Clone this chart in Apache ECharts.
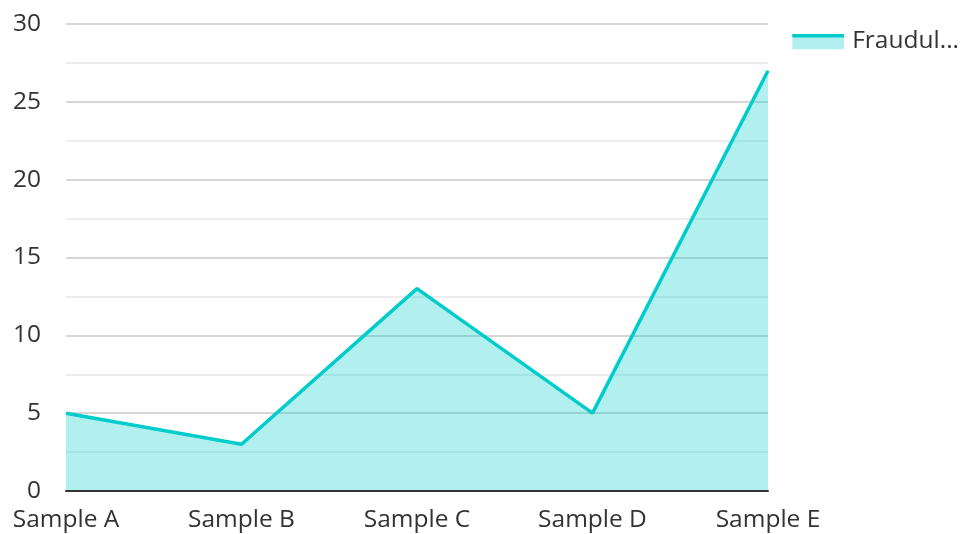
<!DOCTYPE html>
<html>
<head>
<meta charset="utf-8">
<script src="https://cdn.jsdelivr.net/npm/echarts@6/dist/echarts.min.js"></script>
<style>
  html, body { margin: 0; padding: 0; background: #fff; }
  #chart { width: 963px; height: 534px; }
</style>
</head>
<body>
<div id="chart"></div>
<script>
// 数据
var categories = ['Sample A', 'Sample B', 'Sample C', 'Sample D', 'Sample E'];
var fraudValues = [5, 3, 13, 5, 27];
var seriesName = 'Fraudulent';

var myChart = echarts.init(document.getElementById('chart'));

// 图例图标：上面一条线，下面是面积色
var legendSvg = '<svg xmlns="http://www.w3.org/2000/svg" width="52" height="16">' +
  '<rect x="0" y="0" width="52" height="16" fill="#b2efef"/>' +
  '<rect x="0" y="0" width="52" height="4" fill="#00cccc"/></svg>';
var legendIcon = 'image://data:image/svg+xml;charset=utf-8,' + encodeURIComponent(legendSvg);

var option = {
  animation: false,
  textStyle: { fontFamily: 'Open Sans' },
  grid: {
    left: 66,
    right: 195,
    top: 24,
    bottom: 43
  },
  legend: {
    right: 4,
    top: 29,
    padding: 0,
    itemWidth: 52,
    itemHeight: 16,
    itemGap: 8,
    data: [{ name: seriesName, icon: legendIcon }],
    textStyle: {
      fontSize: 24.5,
      color: '#333',
      width: 112,
      overflow: 'truncate',
      ellipsis: '...',
      padding: [0, 0, 0, 3]
    }
  },
  xAxis: {
    type: 'category',
    boundaryGap: false,
    z: 3,
    data: categories,
    axisLine: { lineStyle: { color: '#333', width: 2 } },
    axisTick: { show: false },
    axisLabel: { fontSize: 24.5, color: '#333', margin: 17 }
  },
  yAxis: {
    type: 'value',
    min: 0,
    max: 30,
    interval: 5,
    axisLine: { show: false },
    axisTick: { show: false },
    axisLabel: { fontSize: 24.5, color: '#333', margin: 25 },
    splitLine: { lineStyle: { color: '#c8c8c8', width: 1.5 } },
    minorTick: { show: false, splitNumber: 2 },
    minorSplitLine: { show: true, lineStyle: { color: '#e8e8e8', width: 1.5 } }
  },
  series: [
    {
      name: seriesName,
      type: 'line',
      data: fraudValues,
      showSymbol: false,
      symbol: 'none',
      color: '#00cccc',
      lineStyle: { color: '#00cccc', width: 3.5 },
      areaStyle: { color: '#00cccc', opacity: 0.3 }
    }
  ]
};

myChart.setOption(option);
</script>
</body>
</html>
